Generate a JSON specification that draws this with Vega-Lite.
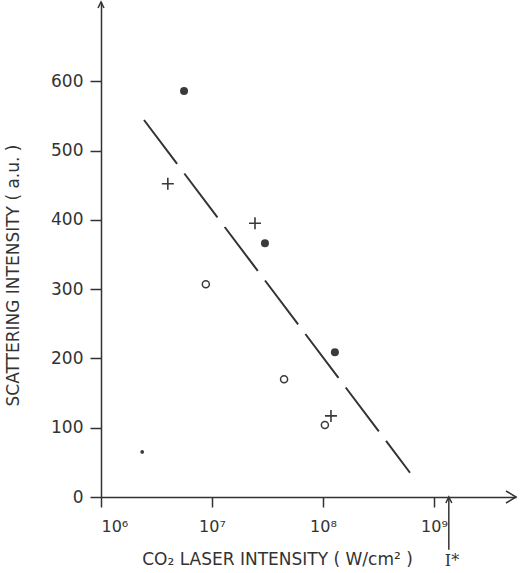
{
  "$schema": "https://vega.github.io/schema/vega-lite/v6.json",
  "description": "Scattering intensity versus CO2 laser intensity, with a dashed trend line and the threshold I*.",
  "autosize": "none",
  "width": 415,
  "height": 495,
  "padding": {"left": 101, "top": 2, "right": 4, "bottom": 76},
  "config": {
    "view": {"stroke": null},
    "font": "DejaVu Sans",
    "axis": {
      "grid": false,
      "domainColor": "#333333",
      "domainWidth": 1.5,
      "tickColor": "#333333",
      "tickWidth": 1.5,
      "labelColor": "#333333",
      "titleColor": "#333333",
      "labelFont": "DejaVu Sans",
      "titleFont": "DejaVu Sans",
      "titleFontWeight": "normal"
    }
  },
  "datasets": {
    "points": [
      {"intensity": 5600000, "scattering": 586, "kind": "filled"},
      {"intensity": 30000000, "scattering": 366, "kind": "filled"},
      {"intensity": 128000000, "scattering": 209, "kind": "filled"},
      {"intensity": 8800000, "scattering": 307, "kind": "open"},
      {"intensity": 44600000, "scattering": 170, "kind": "open"},
      {"intensity": 104000000, "scattering": 104, "kind": "open"},
      {"intensity": 4000000, "scattering": 452, "kind": "plus"},
      {"intensity": 24400000, "scattering": 395, "kind": "plus"},
      {"intensity": 118000000, "scattering": 117, "kind": "plus"},
      {"intensity": 2350000, "scattering": 65, "kind": "dot"}
    ],
    "fit": [
      {"intensity": 2440000, "scattering": 544},
      {"intensity": 608000000, "scattering": 35}
    ],
    "threshold": [
      {"intensity": 1360000000, "scattering": 0, "bottom": -76, "label": "I*", "labelPos": -92}
    ],
    "upArrow": [
      {"intensity": 1000000, "scattering": 714.3},
      {"intensity": 1360000000, "scattering": 0}
    ],
    "rightArrow": [
      {"intensity": 5480000000, "scattering": 0}
    ]
  },
  "layer": [
    {
      "data": {"name": "fit"},
      "mark": {"type": "line", "color": "#333333", "strokeWidth": 2, "strokeDash": [55, 12]},
      "encoding": {
        "x": {
          "field": "intensity",
          "type": "quantitative",
          "scale": {"type": "log", "domain": [1000000, 5480000000], "nice": false},
          "axis": {
            "values": [1000000, 10000000, 100000000, 1000000000],
            "labelExpr": "'10' + ['⁶','⁷','⁸','⁹'][round(log(datum.value) / LN10) - 6]",
            "labelFontSize": 16,
            "labelDx": 6,
            "labelPadding": 11,
            "tickSize": 10,
            "title": "CO₂ LASER INTENSITY ( W/cm² )",
            "titleFontSize": 17,
            "titleX": 176,
            "titleY": 67,
            "titleBaseline": "alphabetic",
            "titleAlign": "center",
            "titleAnchor": null
          }
        },
        "y": {
          "field": "scattering",
          "type": "quantitative",
          "scale": {"domain": [0, 714.3], "nice": false, "zero": false},
          "axis": {
            "values": [0, 100, 200, 300, 400, 500, 600],
            "labelFontSize": 17,
            "labelPadding": 7,
            "tickSize": 11,
            "title": "SCATTERING INTENSITY ( a.u. )",
            "titleFontSize": 17,
            "titleAngle": 270,
            "titleX": -88,
            "titleY": 273,
            "titleBaseline": "middle",
            "titleAlign": "center",
            "titleAnchor": null
          }
        }
      }
    },
    {
      "data": {"name": "points"},
      "transform": [{"filter": "datum.kind === 'filled'"}],
      "mark": {"type": "point", "shape": "circle", "filled": true, "color": "#3a3a3a", "opacity": 1, "size": 64},
      "encoding": {
        "x": {"field": "intensity", "type": "quantitative"},
        "y": {"field": "scattering", "type": "quantitative"}
      }
    },
    {
      "data": {"name": "points"},
      "transform": [{"filter": "datum.kind === 'open'"}],
      "mark": {"type": "point", "shape": "circle", "filled": false, "color": "#3a3a3a", "opacity": 1, "strokeWidth": 1.5, "size": 50},
      "encoding": {
        "x": {"field": "intensity", "type": "quantitative"},
        "y": {"field": "scattering", "type": "quantitative"}
      }
    },
    {
      "data": {"name": "points"},
      "transform": [{"filter": "datum.kind === 'plus'"}],
      "mark": {"type": "point", "shape": "M-1,0L1,0M0,-1L0,1", "filled": false, "color": "#3a3a3a", "opacity": 1, "strokeWidth": 1.6, "size": 144},
      "encoding": {
        "x": {"field": "intensity", "type": "quantitative"},
        "y": {"field": "scattering", "type": "quantitative"}
      }
    },
    {
      "data": {"name": "points"},
      "transform": [{"filter": "datum.kind === 'dot'"}],
      "mark": {"type": "point", "shape": "circle", "filled": true, "color": "#3a3a3a", "opacity": 1, "size": 14},
      "encoding": {
        "x": {"field": "intensity", "type": "quantitative"},
        "y": {"field": "scattering", "type": "quantitative"}
      }
    },
    {
      "data": {"name": "threshold"},
      "mark": {"type": "rule", "color": "#333333", "strokeWidth": 1.5, "clip": false},
      "encoding": {
        "x": {"field": "intensity", "type": "quantitative"},
        "y": {"field": "bottom", "type": "quantitative"},
        "y2": {"field": "scattering"}
      }
    },
    {
      "data": {"name": "threshold"},
      "mark": {"type": "text", "font": "DejaVu Serif", "fontSize": 16, "color": "#333333", "align": "left", "baseline": "middle", "dx": -4},
      "encoding": {
        "x": {"field": "intensity", "type": "quantitative"},
        "y": {"field": "labelPos", "type": "quantitative"},
        "text": {"field": "label"}
      }
    },
    {
      "data": {"name": "upArrow"},
      "mark": {"type": "point", "shape": "M-0.5,1L0,0L0.5,1", "filled": false, "color": "#333333", "opacity": 1, "strokeWidth": 1.5, "size": 144},
      "encoding": {
        "x": {"field": "intensity", "type": "quantitative"},
        "y": {"field": "scattering", "type": "quantitative"}
      }
    },
    {
      "data": {"name": "rightArrow"},
      "mark": {"type": "point", "shape": "M-1,-0.6L0,0L-1,0.6", "filled": false, "color": "#333333", "opacity": 1, "strokeWidth": 1.5, "size": 400},
      "encoding": {
        "x": {"field": "intensity", "type": "quantitative"},
        "y": {"field": "scattering", "type": "quantitative"}
      }
    }
  ]
}
